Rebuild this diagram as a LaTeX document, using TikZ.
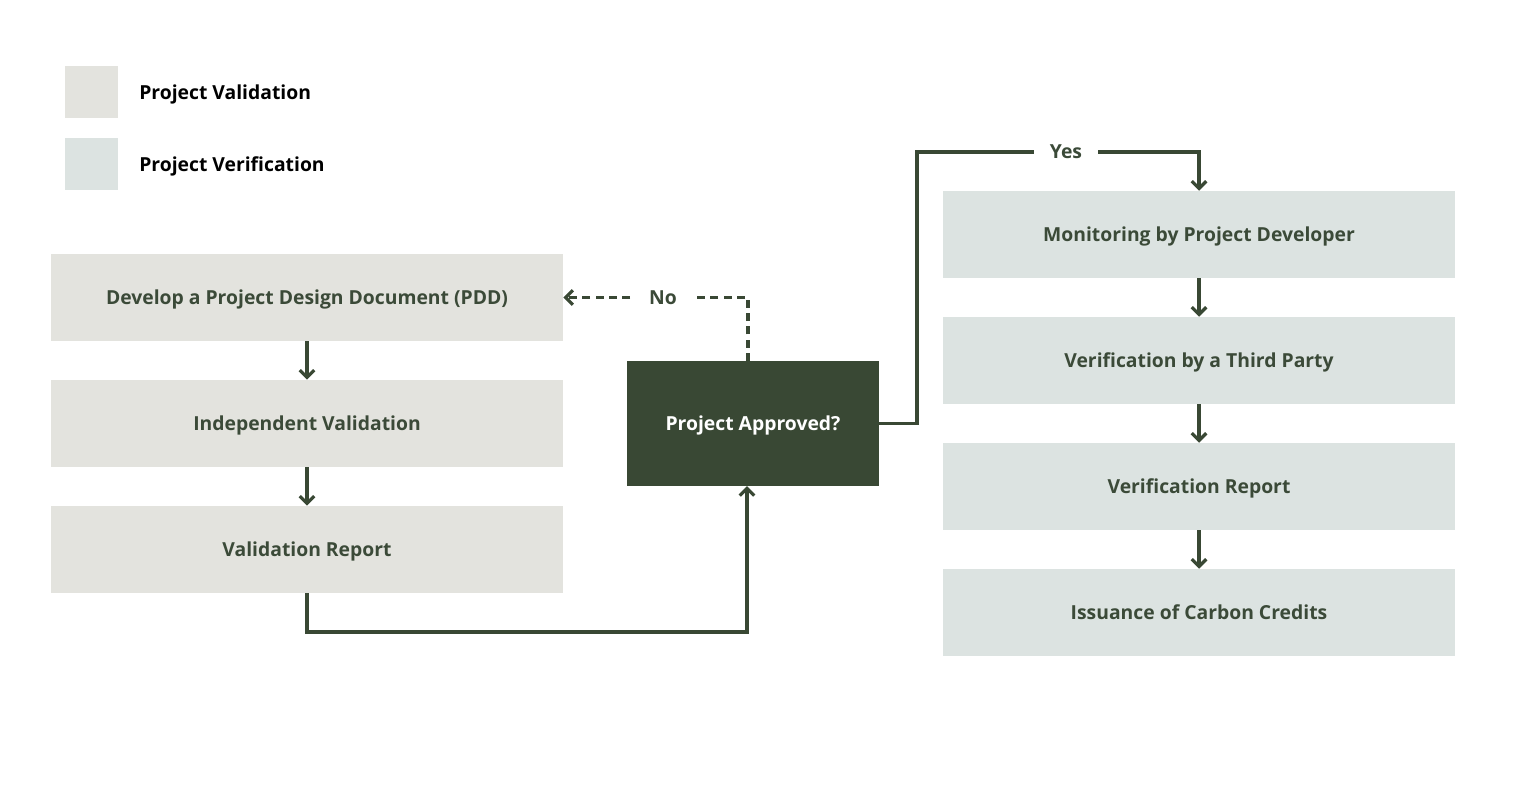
\documentclass[tikz,border=0pt]{standalone}
\usepackage{fontspec}
\setmainfont{Open Sans}
\usetikzlibrary{arrows.meta,calc}
\definecolor{valfill}{HTML}{E3E3DE}
\definecolor{verfill}{HTML}{DCE3E1}
\definecolor{dkgreen}{HTML}{394834}
\definecolor{txtgreen}{HTML}{3B4A38}
\tikzset{
  fnt/.style={font=\fontsize{14.5}{17}\selectfont\bfseries, text depth=0pt},
  box/.style={draw=none, minimum width=512*0.75pt, minimum height=87*0.75pt, inner sep=0pt,
     fnt, text=txtgreen},
  valbox/.style={box, fill=valfill},
  verbox/.style={box, fill=verfill},
  decbox/.style={draw=none, fill=dkgreen, minimum width=252*0.75pt, minimum height=125*0.75pt,
     inner sep=0pt, fnt, text=white},
  legsq/.style={draw=none, minimum width=53*0.75pt, minimum height=52*0.75pt, inner sep=0pt},
  legtxt/.style={anchor=west, inner sep=0pt, fnt, text=black},
  conn/.style={draw=dkgreen, line width=2.3pt},
  tip/.style={-{Straight Barb[length=5.5pt,width=11pt,line width=2.4pt]}},
  arr/.style={conn, tip},
  dashconn/.style={conn, dash pattern=on 6pt off 4pt},
  lbl/.style={fnt, text=txtgreen, fill=white, inner ysep=2pt}
}
\begin{document}
\begin{tikzpicture}[x=0.75pt,y=-0.75pt]
\useasboundingbox (0,0) rectangle (1536,808);
% legend
\node[legsq, fill=valfill] (lg1) at (91.5,92) {};
\node[legsq, fill=verfill] (lg2) at (91.5,164) {};
\node[legtxt] (lt1) at (139,92) {Project Validation};
\node[legtxt] (lt2) at (139,164) {Project Verification};
% left column
\node[valbox] (pdd) at (307,297.5) {Develop a Project Design Document (PDD)};
\node[valbox] (ind) at (307,423.5) {Independent Validation};
\node[valbox] (vrep) at (307,549.5) {Validation Report};
% decision
\node[decbox] (dec) at (753,423.5) {Project Approved?};
% right column
\node[verbox] (mon) at (1199,234.5) {Monitoring by Project Developer};
\node[verbox] (ver) at (1199,360.5) {Verification by a Third Party};
\node[verbox] (vr) at (1199,486.5) {Verification Report};
\node[verbox] (iss) at (1199,612.5) {Issuance of Carbon Credits};
% labels
\node[lbl, inner xsep=14pt] (no) at (663,297.5) {No};
\node[lbl, inner xsep=12pt] (yes) at (1066,152) {Yes};
% coordinates
\coordinate (dtop) at (748,361);
\coordinate (dbot) at (747,486);
\coordinate (vb) at (307,632);
\coordinate (yr) at (917,152);
% connectors
\draw[arr] (pdd.south) -- (ind.north);
\draw[arr] (ind.south) -- (vrep.north);
\draw[arr] (vrep.south) -- (vb) -| (dbot);
\draw[dashconn] (dtop) |- (no.east);
\draw[dashconn, tip] (no.west) -- (pdd.east);
\draw[conn] (dec.east) -| (yr) -- (yes.west);
\draw[arr] (yes.east) -| (mon.north);
\draw[arr] (mon.south) -- (ver.north);
\draw[arr] (ver.south) -- (vr.north);
\draw[arr] (vr.south) -- (iss.north);
\end{tikzpicture}
\end{document}
